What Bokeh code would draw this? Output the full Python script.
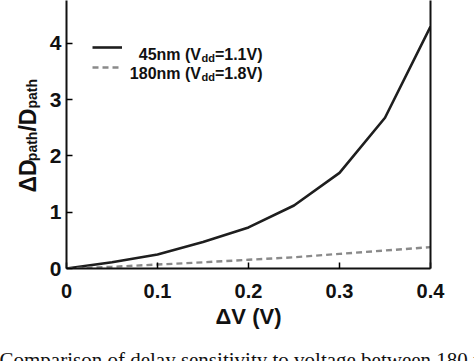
import math
from bokeh.plotting import figure
from bokeh.models import (Label, Legend, LegendItem, LinearAxis, FixedTicker, Range1d)
from bokeh.core.properties import value
from bokeh.embed import file_html
from bokeh.resources import INLINE

# ---- data ----
dv = [0.0, 0.05, 0.10, 0.15, 0.20, 0.25, 0.30, 0.35, 0.40]
d45 = [0.0, 0.11, 0.25, 0.47, 0.73, 1.12, 1.70, 2.68, 4.30]
d180 = [0.0, 0.03, 0.07, 0.11, 0.155, 0.20, 0.26, 0.32, 0.38]
x_ticks = [0, 0.1, 0.2, 0.3, 0.4]
x_tick_labels = ["0", "0.1", "0.2", "0.3", "0.4"]
y_ticks = [0, 1, 2, 3, 4]
y_tick_labels = ["0", "1", "2", "3", "4"]
series_main = ["45nm (V", "180nm (V"]
series_sub = ["dd", "dd"]
series_tail = ["=1.1V)", "=1.8V)"]
caption = "Comparison of delay sensitivity to voltage between 180 nm"

W, H = 474, 361
FL, FR, FT, FB = 66, 430, 0, 268  # frame edges in figure px

p = figure(width=W, height=H, output_backend="svg", toolbar_location=None,
           x_range=Range1d(0, 0.4), y_range=Range1d(0, 4.764),
           min_border_left=FL, min_border_right=W - FR,
           min_border_top=FT, min_border_bottom=H - FB)
p.outline_line_color = None
p.grid.visible = False
p.background_fill_color = "white"
p.border_fill_color = "white"

r45 = p.line(dv, d45, line_color="#1e1e1e", line_width=2.6)
r180 = p.line(dv, d180, line_color="#8a8a8a", line_width=2.4, line_dash="6 4")

FONT = "Liberation Sans"
for ax in (p.xaxis[0], p.yaxis[0]):
    ax.axis_line_width = 2
    ax.axis_line_color = "#111111"
    ax.major_tick_in = 6
    ax.major_tick_out = 0
    ax.minor_tick_in = 0
    ax.minor_tick_out = 0
    ax.major_tick_line_width = 1.5
    ax.major_label_text_font = FONT
    ax.major_label_text_font_style = "bold"
    ax.major_label_text_color = "#111111"

p.xaxis[0].ticker = FixedTicker(ticks=x_ticks)
p.xaxis[0].major_label_overrides = dict(zip(x_ticks, x_tick_labels))
p.xaxis[0].major_label_text_font_size = "20px"
p.xaxis[0].major_label_standoff = 15
p.xaxis[0].axis_label = "\u0394V (V)"
p.xaxis[0].axis_label_text_font = FONT
p.xaxis[0].axis_label_text_font_style = "bold"
p.xaxis[0].axis_label_text_font_size = "22px"
p.xaxis[0].axis_label_text_color = "#111111"
p.xaxis[0].axis_label_standoff = 3

p.yaxis[0].ticker = FixedTicker(ticks=y_ticks)
p.yaxis[0].major_label_overrides = dict(zip(y_ticks, y_tick_labels))
p.yaxis[0].major_label_text_font_size = "21px"
p.yaxis[0].major_label_standoff = 5

right = LinearAxis(ticker=FixedTicker(ticks=[]), axis_line_width=2,
                   axis_line_color="#111111", major_label_text_font_size="0px",
                   major_tick_in=0, major_tick_out=0, minor_tick_in=0, minor_tick_out=0)
p.add_layout(right, "right")

# helpers: figure px -> frame-relative screen units (for Labels inside the frame)
def sx(fx):
    return fx - FL

def sy(fy):
    return FB - fy

# legend samples (uses the renderers' own styles)
legend = Legend(items=[LegendItem(label=" ", renderers=[r45]),
                       LegendItem(label=" ", renderers=[r180])],
                location=(sx(92), sy(37 + 40)), glyph_width=30, glyph_height=20,
                label_width=0, label_height=20, label_standoff=0, padding=0,
                spacing=0, margin=0, border_line_color=None,
                background_fill_alpha=0, label_text_font_size="1px")
p.add_layout(legend, "center")

# legend texts with subscripts (right-aligned)
AW = {'0': .556, '1': .556, '4': .556, '5': .556, '8': .556, 'n': .611, 'm': .889,
      ' ': .278, '(': .333, ')': .333, 'V': .667, 'd': .611, '=': .584, '.': .278}

def tw(s, size):
    return sum(AW.get(c, .556) for c in s) * size

LS, SS = 16, 11
right_x = 262
baselines = [54, 72.5]
for i in range(2):
    xr = right_x
    p.add_layout(Label(x=sx(xr), y=sy(baselines[i]), x_units="screen", y_units="screen",
                       text=series_tail[i], text_align="right", text_baseline="alphabetic",
                       text_font=FONT, text_font_style="bold", text_font_size=f"{LS}px",
                       text_color="#111111"))
    xr -= tw(series_tail[i], LS)
    p.add_layout(Label(x=sx(xr), y=sy(baselines[i] + 3.5), x_units="screen", y_units="screen",
                       text=series_sub[i], text_align="right", text_baseline="alphabetic",
                       text_font=FONT, text_font_style="bold", text_font_size=f"{SS}px",
                       text_color="#111111"))
    xr -= tw(series_sub[i], SS) + 0.5
    p.add_layout(Label(x=sx(xr), y=sy(baselines[i]), x_units="screen", y_units="screen",
                       text=series_main[i], text_align="right", text_baseline="alphabetic",
                       text_font=FONT, text_font_style="bold", text_font_size=f"{LS}px",
                       text_color="#111111"))

# texts outside the frame: text glyphs anchored at the axis origin, offset in px,
# drawn at the overlay level so that they are not clipped to the frame
def outer_text(txt, fx, fy, size, font=FONT, style="bold", angle=0.0):
    p.text(x=[0], y=[0], text=[txt], x_offset=fx - FL, y_offset=fy - FB,
           angle=angle, text_font=value(font), text_font_style=style,
           text_font_size=value(f"{size}px"), text_align="left",
           text_baseline="alphabetic", text_color="#111111", level="overlay")

# rotated y-axis label: ΔD_path / D_path
BW = {'\u0394': .64, 'D': .722, '/': .278, 'p': .611, 'a': .556, 't': .333, 'h': .611}

def bw(s, size):
    return sum(BW.get(c, .6) for c in s) * size

BIG, SUB = 23, 14
base_x = 27
yy = 192
for txt, size, off in [("\u0394D", BIG, 0), ("path", SUB, 4), ("/D", BIG, 0), ("path", SUB, 4)]:
    outer_text(txt, base_x + off, yy, size, angle=math.pi / 2)
    yy -= bw(txt, size)

# caption (cut off at the bottom, as in the source)
outer_text(caption, -1, 359, 21, font="Liberation Serif", style="normal")

open("out.html", "w").write(file_html(p, INLINE))
